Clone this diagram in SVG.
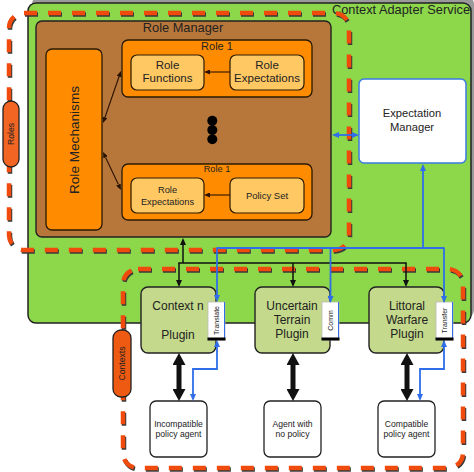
<svg xmlns="http://www.w3.org/2000/svg" width="474" height="472" viewBox="0 0 474 472">
<style>
text{font-family:"Liberation Sans",Arial,sans-serif;fill:#222}
.c{text-anchor:middle}
.box{stroke:#222;stroke-width:1.3}
.inner{fill:#FFC862;stroke:#2a1a00;stroke-width:1.2}
.role{fill:#FF8C00;stroke:#2a1a00;stroke-width:1.3}
.plug{fill:#C4D98B;stroke:#222;stroke-width:1.4}
.agent{fill:#fff;stroke:#222;stroke-width:1.3}
.tr{fill:#fff;stroke:#bbb;stroke-width:0.8}
.dsh{fill:none;stroke:#F04A0C;stroke-width:4.5;stroke-dasharray:13 11}
.dshs{fill:none;stroke:#3a3a3a;stroke-width:4.5;stroke-dasharray:13 11}
.pill{stroke:#222;stroke-width:1.3}
.blk{fill:none;stroke:#111;stroke-width:1.5}
.blu{fill:none;stroke:#2F6EE8;stroke-width:1.8}
.thk{fill:none;stroke:#111;stroke-width:5}
.rl{fill:none;stroke:#2a1200;stroke-width:1.1}
</style>
<defs>
<marker id="ab" markerUnits="userSpaceOnUse" viewBox="0 0 7 6" markerWidth="7" markerHeight="6" refX="0" refY="3" orient="auto-start-reverse"><path d="M0,0 L7,3 L0,6 z" fill="#111"/></marker>
<marker id="au" markerUnits="userSpaceOnUse" viewBox="0 0 7 6" markerWidth="7" markerHeight="6" refX="0" refY="3" orient="auto-start-reverse"><path d="M0,0 L7,3 L0,6 z" fill="#2F6EE8"/></marker>
<marker id="at" markerUnits="userSpaceOnUse" viewBox="0 0 12 13" markerWidth="12" markerHeight="13" refX="0" refY="6.5" orient="auto-start-reverse"><path d="M0,0 L12,6.5 L0,13 z" fill="#111"/></marker>
<marker id="ar" markerUnits="userSpaceOnUse" viewBox="0 0 6 5" markerWidth="6" markerHeight="5" refX="0" refY="2.5" orient="auto-start-reverse"><path d="M0,0 L6,2.5 L0,5 z" fill="#2a1200"/></marker>
</defs>

<rect x="32" y="-4" width="442" height="322" rx="8" fill="#9a9a9a"/>
<g id="context-adapter-service">
<rect x="28" y="3" width="443" height="320" rx="8" fill="#8CD74A" stroke="#222" stroke-width="1.5"/>
<text x="470" y="13.5" font-size="12.8" text-anchor="end">Context Adapter Service</text>
</g>

<g id="role-manager">
<rect x="36" y="21" width="295" height="216" rx="6" fill="#B8773A" stroke="#222" stroke-width="1.4"/>
<text x="183" y="32" font-size="12.8" class="c">Role Manager</text>
</g>
<g id="role-mechanisms">
<rect x="46" y="49" width="56" height="181" rx="6" class="role"/>
<text transform="translate(79,140) rotate(-90)" font-size="13.5" class="c" textLength="108" lengthAdjust="spacingAndGlyphs">Role Mechanisms</text>
</g>
<g id="role-1-top">
<rect x="122" y="40" width="190" height="57" rx="6" class="role"/>
<text x="217" y="50" font-size="11" class="c">Role 1</text>
</g>
<g id="role-functions">
<rect x="131" y="55" width="73" height="35" rx="6" class="inner"/>
<text x="167.5" y="69" font-size="11.5" class="c">Role</text>
<text x="167.5" y="82" font-size="11.5" class="c">Functions</text>
</g>
<g id="role-expectations-top">
<rect x="230" y="55" width="74" height="35" rx="6" class="inner"/>
<text x="267" y="69" font-size="11.5" class="c">Role</text>
<text x="267" y="82" font-size="11.5" class="c">Expectations</text>
</g>
<g id="ellipsis">
<circle cx="212.3" cy="120.7" r="5" fill="#000"/>
<circle cx="212.3" cy="130" r="5" fill="#000"/>
<circle cx="212.3" cy="139.3" r="5" fill="#000"/>
</g>
<g id="role-1-bottom">
<rect x="122" y="164" width="190" height="56" rx="6" class="role"/>
<text x="217" y="172" font-size="9.2" class="c">Role 1</text>
</g>
<g id="role-expectations-bottom">
<rect x="131" y="178" width="73" height="35" rx="6" class="inner"/>
<text x="167.5" y="192.5" font-size="9.3" class="c">Role</text>
<text x="167.5" y="204.5" font-size="9.3" class="c">Expectations</text>
</g>
<g id="policy-set">
<rect x="230" y="178" width="74" height="35" rx="6" class="inner"/>
<text x="267" y="198.5" font-size="9.5" class="c">Policy Set</text>
</g>

<g id="expectation-manager">
<rect x="359" y="79" width="107" height="84" rx="5" fill="#fff" stroke="#3A7BE0" stroke-width="1.5"/>
<text x="412" y="117" font-size="11.2" class="c">Expectation</text>
<text x="412" y="131" font-size="11.2" class="c">Manager</text>
</g>

<g id="boundaries">
<rect x="10" y="14.5" width="340" height="237" rx="15" class="dshs"/>
<rect x="9" y="13" width="340" height="237" rx="15" class="dsh"/>
<rect x="124" y="270.5" width="340" height="199" rx="15" class="dshs"/>
<rect x="123" y="269" width="340" height="199" rx="15" class="dsh"/>
</g>
<g id="roles-label">
<rect x="3" y="101" width="16" height="66" rx="8" fill="#F26522" class="pill"/>
<text transform="translate(14,134) rotate(-90)" font-size="8.6" class="c">Roles</text>
</g>
<g id="contexts-label">
<rect x="113" y="330" width="18" height="67" rx="8" fill="#EE5A12" class="pill"/>
<text transform="translate(125,363.5) rotate(-90)" font-size="8.6" class="c">Contexts</text>
</g>

<g id="plugin-context-n">
<rect x="141" y="287" width="75" height="66" rx="7" class="plug"/>
<text x="178" y="309.5" font-size="12" class="c">Context n</text>
<text x="178" y="338.5" font-size="12" class="c">Plugin</text>
</g>
<g id="translate">
<rect x="208" y="302" width="17" height="38" class="tr"/>
<line x1="224.5" y1="302" x2="224.5" y2="338" stroke="#2F6EE8" stroke-width="1"/>
<line x1="207.5" y1="339" x2="225.5" y2="339" stroke="#000" stroke-width="3"/>
<text transform="translate(219,320.5) rotate(-90)" font-size="7" class="c">Translate</text>
</g>
<g id="plugin-uncertain-terrain">
<rect x="255" y="287" width="75" height="66" rx="7" class="plug"/>
<text x="292" y="309.6" font-size="12" class="c">Uncertain</text>
<text x="292" y="323.6" font-size="12" class="c">Terrain</text>
<text x="292" y="338" font-size="12" class="c">Plugin</text>
</g>
<g id="comm">
<rect x="322" y="302" width="17" height="38" class="tr"/>
<line x1="338.5" y1="302" x2="338.5" y2="338" stroke="#2F6EE8" stroke-width="1"/>
<line x1="321.5" y1="339" x2="339.5" y2="339" stroke="#000" stroke-width="3"/>
<text transform="translate(333,320.5) rotate(-90)" font-size="7" class="c">Comm</text>
</g>
<g id="plugin-littoral-warfare">
<rect x="369" y="287" width="75" height="66" rx="7" class="plug"/>
<text x="407" y="309.6" font-size="12" class="c">Littoral</text>
<text x="407" y="323.6" font-size="12" class="c">Warfare</text>
<text x="407" y="338" font-size="12" class="c">Plugin</text>
</g>
<g id="transfer">
<rect x="436" y="302" width="17" height="38" class="tr"/>
<line x1="452.5" y1="302" x2="452.5" y2="338" stroke="#2F6EE8" stroke-width="1"/>
<line x1="435.5" y1="339" x2="453.5" y2="339" stroke="#000" stroke-width="3"/>
<text transform="translate(447,320.5) rotate(-90)" font-size="7" class="c">Transfer</text>
</g>

<g id="agent-incompatible">
<rect x="150" y="401" width="57" height="56" rx="6" class="agent"/>
<text x="178.5" y="426.5" font-size="8.6" class="c">Incompatible</text>
<text x="178.5" y="436.5" font-size="8.6" class="c">policy agent</text>
</g>
<g id="agent-no-policy">
<rect x="264" y="401" width="57" height="56" rx="6" class="agent"/>
<text x="292.5" y="426.5" font-size="8.6" class="c">Agent with</text>
<text x="292.5" y="436.5" font-size="8.6" class="c">no policy</text>
</g>
<g id="agent-compatible">
<rect x="378" y="401" width="57" height="56" rx="6" class="agent"/>
<text x="406.5" y="426.5" font-size="8.6" class="c">Compatible</text>
<text x="406.5" y="436.5" font-size="8.6" class="c">policy agent</text>
</g>

<g id="connectors">
<path class="rl" d="M105,117.3 L119,76.7" marker-start="url(#ar)" marker-end="url(#ar)"/>
<path class="rl" d="M105.6,157.4 L118.4,184.6" marker-start="url(#ar)" marker-end="url(#ar)"/>
<path class="rl" d="M230,72 H210" marker-end="url(#ar)"/>
<path class="rl" d="M230,195 H210" marker-end="url(#ar)"/>

<path class="blk" d="M183,263 V245" marker-end="url(#ab)"/>
<path class="blk" d="M178.3,263 H406.7"/>
<path class="blk" d="M179,263 V280" marker-end="url(#ab)"/>
<path class="blk" d="M293,263 V280" marker-end="url(#ab)"/>
<path class="blk" d="M406,263 V280" marker-end="url(#ab)"/>

<path class="blu" d="M339,135 H352" marker-start="url(#au)" marker-end="url(#au)"/>
<path class="blu" d="M423,171 V248" marker-start="url(#au)"/>
<path class="blu" d="M216.5,248 H444.5"/>
<path class="blu" d="M217,248 V295" marker-end="url(#au)"/>
<path class="blu" d="M330.5,248 V296" marker-end="url(#au)"/>
<path class="blu" d="M444,248 V296" marker-end="url(#au)"/>
<path class="blu" d="M217,347 V369 H193 V394" marker-start="url(#au)" marker-end="url(#au)"/>
<path class="blu" d="M444,347 V369 H420 V394" marker-start="url(#au)" marker-end="url(#au)"/>

<path class="thk" d="M179,365 V389" marker-start="url(#at)" marker-end="url(#at)"/>
<path class="thk" d="M293,365 V389" marker-start="url(#at)" marker-end="url(#at)"/>
<path class="thk" d="M407,365 V389" marker-start="url(#at)" marker-end="url(#at)"/>
</g>
</svg>
